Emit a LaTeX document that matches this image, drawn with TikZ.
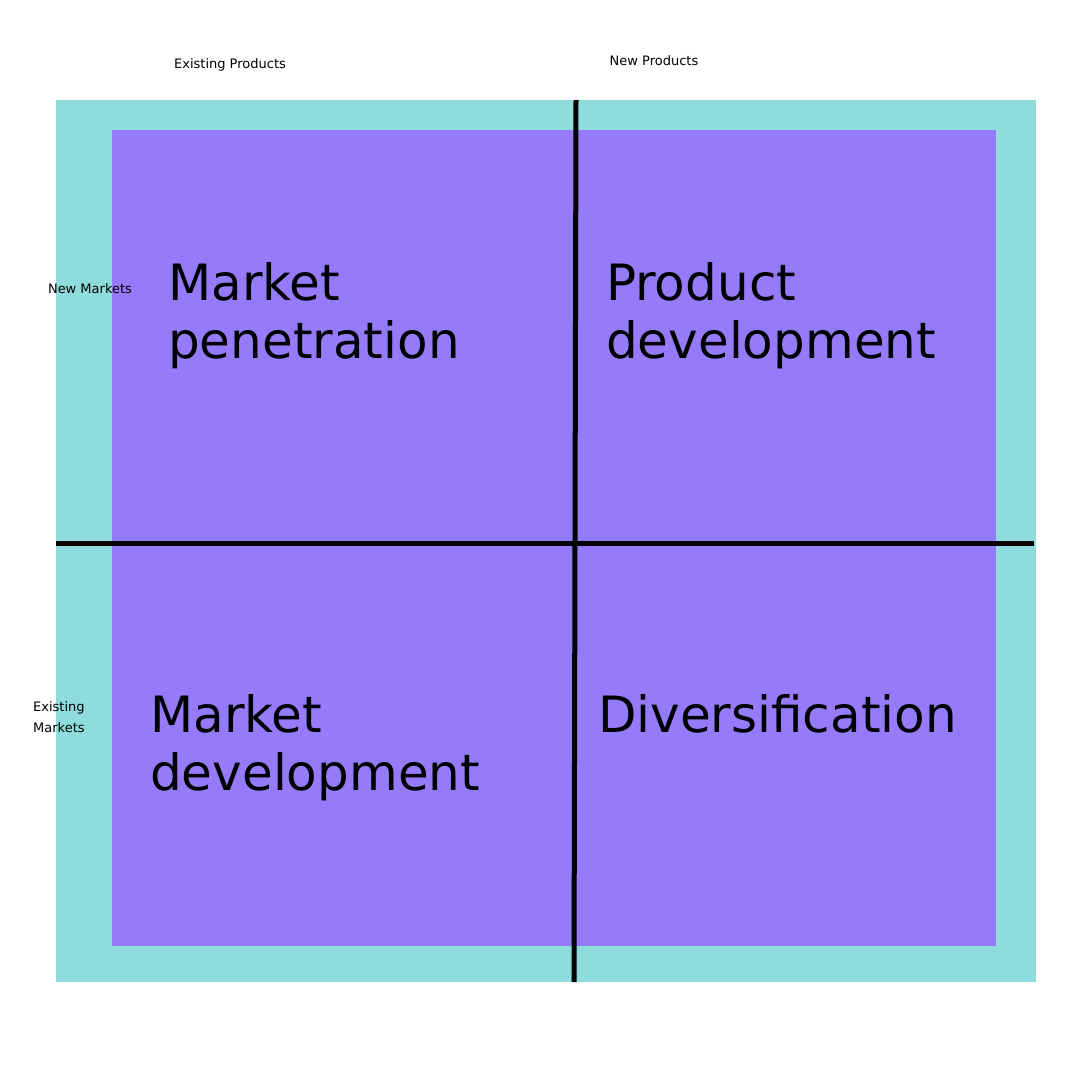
\documentclass[tikz,border=0pt]{standalone}
\usepackage{fontspec}
\setmainfont{DejaVu Sans}
\definecolor{outerc}{HTML}{8EDCDC}
\definecolor{innerc}{HTML}{937BF9}
\begin{document}
\begin{tikzpicture}[x=1pt,y=-1pt,
  big/.style={font=\fontsize{50}{58}\selectfont,align=left,anchor=north west,inner sep=0pt},
  small/.style={font=\fontsize{13}{21}\selectfont,inner sep=0pt},
  axis/.style={line width=5pt}]
\useasboundingbox (0,0) rectangle (1080,1080);
\fill[outerc] (56,100) rectangle (1036,982);
\fill[innerc] (112,130) rectangle (996,946);
\coordinate (vt) at (576,100);
\coordinate (vb) at (574,982);
\coordinate (hl) at (56,543);
\coordinate (hr) at (1034,543);
\draw[axis] (vt) -- (vb);
\draw[axis] (hl) -- (hr);
\node[small] (ep) at (230,65) {Existing Products};
\node[small] (np) at (654,61) {New Products};
\node[small] (nm) at (90,289) {New Markets};
\node[small,align=left,anchor=west] (em) at (33,717) {Existing\\Markets};
\node[big] (mp) at (168,262) {Market\\penetration};
\node[big] (pd) at (606,262) {Product\\development};
\node[big] (md) at (150,694) {Market\\development};
\node[big] (dv) at (598,694) {Diversification};
\end{tikzpicture}
\end{document}
